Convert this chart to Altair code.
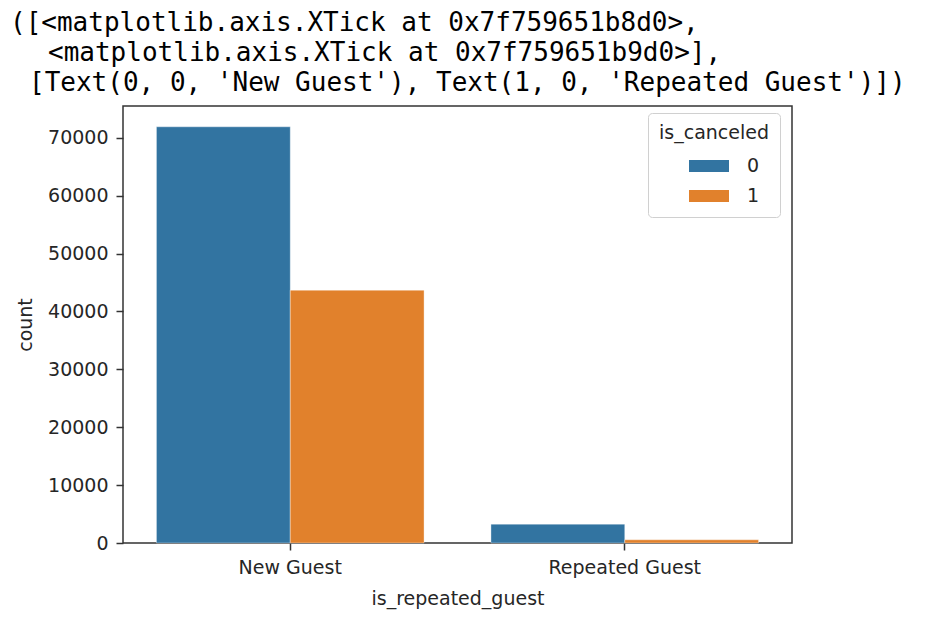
import altair as alt
import pandas as pd

# seaborn countplot: is_repeated_guest split by is_canceled
guest_type = ["New Guest", "New Guest", "Repeated Guest", "Repeated Guest"]
is_canceled = ["0", "1", "0", "1"]
counts = [71908, 43672, 3258, 552]

tick_values = [0, 10000, 20000, 30000, 40000, 50000, 60000, 70000]

header_lines = [
    "([<matplotlib.axis.XTick at 0x7f759651b8d0>,",
    "\u2800\u2800<matplotlib.axis.XTick at 0x7f759651b9d0>],",
    "\u2800[Text(0, 0, 'New Guest'), Text(1, 0, 'Repeated Guest')])",
]

source = pd.DataFrame({
    "is_repeated_guest": guest_type,
    "is_canceled": is_canceled,
    "count": counts,
})

font = "DejaVu Sans"

chart = alt.Chart(source).mark_bar(
    stroke="white", strokeWidth=0.6, strokeOpacity=0.6
).encode(
    x=alt.X("is_repeated_guest:N",
            scale=alt.Scale(paddingInner=0, paddingOuter=0),
            axis=alt.Axis(title="is_repeated_guest", labelAngle=0)),
    xOffset=alt.XOffset("is_canceled:N",
                        scale=alt.Scale(paddingInner=0, paddingOuter=0.25)),
    y=alt.Y("count:Q",
            scale=alt.Scale(domain=[0, 75503], nice=False, zero=True),
            axis=alt.Axis(title="count", values=tick_values, format="d")),
    color=alt.Color("is_canceled:N",
                    scale=alt.Scale(domain=["0", "1"], range=["#3274a1", "#e1812c"]),
                    legend=alt.Legend(
                        title="is_canceled", orient="none",
                        legendX=525, legendY=7,
                        symbolType="M-2,-0.6H2V0.6H-2Z",
                        symbolSize=400, symbolStrokeWidth=0,
                        symbolOffset=30,
                        fillColor="white", strokeColor="#d0d0d0",
                        cornerRadius=4, padding=11,
                        titleAnchor="middle", titleFontWeight="normal",
                        titleFontSize=19, labelFontSize=19,
                        titleFont=font, labelFont=font,
                        titleColor="#262626", labelColor="#262626",
                        rowPadding=10, titlePadding=13, labelOffset=28,
                    )),
).properties(
    width=669,
    height=437,
    title=alt.TitleParams(
        text=header_lines,
        anchor="start",
        frame="group",
        dx=-113,
        offset=10,
        limit=2000,
        font="DejaVu Sans Mono",
        fontSize=26,
        fontWeight="normal",
        lineHeight=30,
        color="black",
    ),
    padding={"left": 115, "top": 98, "right": 120, "bottom": 75},
    autosize=alt.AutoSizeParams(type="none"),
).configure_view(
    stroke="#333333", strokeWidth=1.5
).configure_axis(
    labelFont=font, titleFont=font,
    labelFontSize=19, titleFontSize=19,
    titleFontWeight="normal",
    labelColor="#262626", titleColor="#262626",
    domain=False, grid=False,
    tickColor="#333333", tickSize=7, tickWidth=1.5,
    labelPadding=8,
).configure_axisY(
    titlePadding=12,
).configure_axisX(
    titlePadding=12,
)

chart.save("out.html", embed_options={"renderer": "svg", "actions": False})
